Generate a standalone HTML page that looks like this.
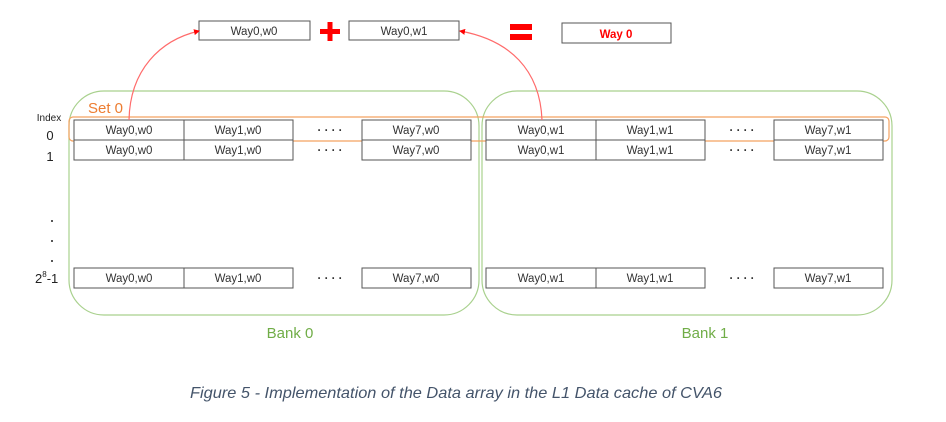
<!DOCTYPE html>
<html><head><meta charset="utf-8"><style>
html,body{margin:0;padding:0;background:#fff;}
svg{display:block;}
text{font-family:"Liberation Sans",sans-serif;}
</style></head><body>
<svg width="946" height="422" viewBox="0 0 946 422" xmlns="http://www.w3.org/2000/svg">
<defs>
<marker id="ah" markerWidth="6" markerHeight="6" refX="5" refY="3" orient="auto" markerUnits="userSpaceOnUse"><path d="M0,0 L6,3 L0,6 z" fill="#f00"/></marker>
</defs>
<rect x="69" y="91" width="410" height="224" rx="35" fill="none" stroke="#a9d18e" stroke-width="1.2"/>
<rect x="482" y="91" width="410" height="224" rx="35" fill="none" stroke="#a9d18e" stroke-width="1.2"/>
<rect x="69" y="117" width="820" height="24" rx="4" fill="none" stroke="#f4a261" stroke-width="1.2"/>
<text x="88" y="113" font-size="15" fill="#ed7d31">Set 0</text>
<g stroke="#555" stroke-width="1" fill="#fff">
<rect x="74" y="120" width="110" height="20"/><rect x="184" y="120" width="109" height="20"/><rect x="362" y="120" width="109" height="20"/>
<rect x="486" y="120" width="110" height="20"/><rect x="596" y="120" width="109" height="20"/><rect x="774" y="120" width="109" height="20"/>
<rect x="74" y="140" width="110" height="20"/><rect x="184" y="140" width="109" height="20"/><rect x="362" y="140" width="109" height="20"/>
<rect x="486" y="140" width="110" height="20"/><rect x="596" y="140" width="109" height="20"/><rect x="774" y="140" width="109" height="20"/>
<rect x="74" y="268" width="110" height="20"/><rect x="184" y="268" width="109" height="20"/><rect x="362" y="268" width="109" height="20"/>
<rect x="486" y="268" width="110" height="20"/><rect x="596" y="268" width="109" height="20"/><rect x="774" y="268" width="109" height="20"/>
<rect x="199" y="21" width="111" height="19"/><rect x="349" y="21" width="110" height="19"/><rect x="562" y="23" width="109" height="20"/>
</g>
<g font-size="11.5" fill="#333" text-anchor="middle">
<text x="129" y="134">Way0,w0</text><text x="238" y="134">Way1,w0</text><text x="330" y="134" font-weight="bold">· · · ·</text><text x="416" y="134">Way7,w0</text>
<text x="541" y="134">Way0,w1</text><text x="650" y="134">Way1,w1</text><text x="742" y="134" font-weight="bold">· · · ·</text><text x="828" y="134">Way7,w1</text>
<text x="129" y="154">Way0,w0</text><text x="238" y="154">Way1,w0</text><text x="330" y="154" font-weight="bold">· · · ·</text><text x="416" y="154">Way7,w0</text>
<text x="541" y="154">Way0,w1</text><text x="650" y="154">Way1,w1</text><text x="742" y="154" font-weight="bold">· · · ·</text><text x="828" y="154">Way7,w1</text>
<text x="129" y="282">Way0,w0</text><text x="238" y="282">Way1,w0</text><text x="330" y="282" font-weight="bold">· · · ·</text><text x="416" y="282">Way7,w0</text>
<text x="541" y="282">Way0,w1</text><text x="650" y="282">Way1,w1</text><text x="742" y="282" font-weight="bold">· · · ·</text><text x="828" y="282">Way7,w1</text>
<text x="254" y="35">Way0,w0</text><text x="404" y="35">Way0,w1</text>
<text x="616" y="38" fill="#f00" font-weight="bold">Way 0</text>
</g>
<rect x="320" y="29" width="20" height="5" fill="#f00"/><rect x="327.5" y="22" width="5" height="19" fill="#f00"/>
<rect x="510" y="24" width="22" height="6" fill="#f00"/><rect x="510" y="34" width="22" height="6" fill="#f00"/>
<path d="M129,120 C130,70 160,40 199,31" fill="none" stroke="#ff6b6b" stroke-width="1.2" marker-end="url(#ah)"/>
<path d="M542,120 C540,70 510,40 460,31" fill="none" stroke="#ff6b6b" stroke-width="1.2" marker-end="url(#ah)"/>
<text x="49" y="121" font-size="10" fill="#222" text-anchor="middle">Index</text>
<text x="50" y="140" font-size="13" fill="#222" text-anchor="middle">0</text>
<text x="50" y="161" font-size="13" fill="#222" text-anchor="middle">1</text>
<circle cx="52" cy="221" r="1" fill="#222"/><circle cx="52" cy="241" r="1" fill="#222"/><circle cx="52" cy="261" r="1" fill="#222"/>
<text x="35" y="283" font-size="13" fill="#222">2<tspan font-size="8" dy="-6">8</tspan><tspan dy="6">-1</tspan></text>
<text x="290" y="338" font-size="15" fill="#70ad47" text-anchor="middle">Bank 0</text>
<text x="705" y="338" font-size="15" fill="#70ad47" text-anchor="middle">Bank 1</text>
<text x="456" y="398" font-size="16" font-style="italic" fill="#44546a" text-anchor="middle" textLength="532" lengthAdjust="spacingAndGlyphs">Figure 5 - Implementation of the Data array in the L1 Data cache of CVA6</text>
</svg>
</body></html>
